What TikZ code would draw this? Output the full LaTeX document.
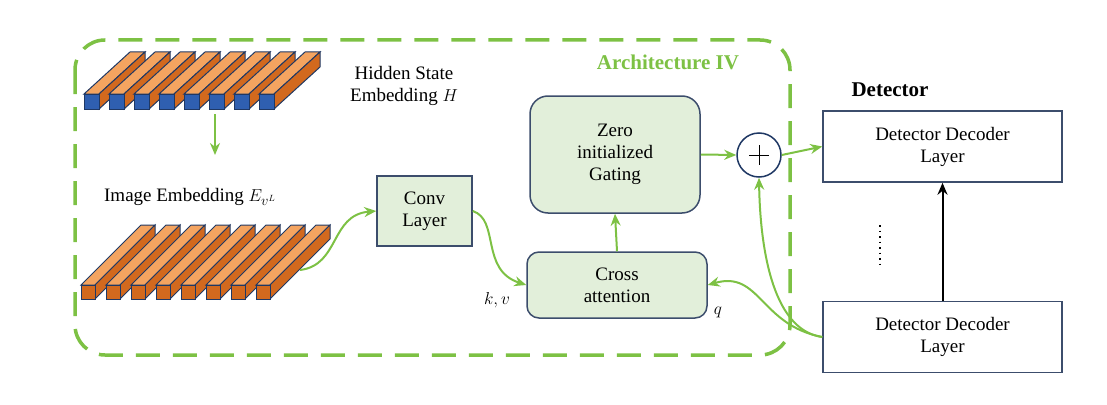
\documentclass[tikz,border=0pt]{standalone}
\usepackage{fontspec}
\setmainfont{Liberation Serif}
\usetikzlibrary{arrows.meta}
\definecolor{gr}{HTML}{7DC144}
\definecolor{boxfill}{HTML}{E2EFDA}
\definecolor{navy}{HTML}{1F3864}
\definecolor{ortop}{HTML}{F4A460}
\definecolor{orside}{HTML}{D2691E}
\definecolor{bl}{HTML}{2F5FB0}
\newcommand\mybar[6]{% x y s dx dy frontcolor
  \draw[navy,line width=1pt,fill=ortop] (#1,#2)--++(#3,0)--++(#4,-#5)--++(-#3,0)--cycle;
  \draw[navy,line width=1pt,fill=orside] (#1+#3,#2)--++(0,#3)--++(#4,-#5)--++(0,-#3)--cycle;
  \draw[navy,line width=1pt,fill=#6] (#1,#2) rectangle ++(#3,#3);
}
\begin{document}
\begin{tikzpicture}[x=1pt,y=-1pt,
  txt/.style={font=\fontsize{19}{22}\selectfont,align=center},
  gbox/.style={draw=navy!70!gray,fill=boxfill,line width=1.5pt,txt},
  wbox/.style={draw=navy!70!gray,fill=white,line width=1.5pt,txt,minimum width=239pt,minimum height=71pt},
  garr/.style={-{Stealth[length=12pt,width=10pt]},gr,line width=2pt}]
\useasboundingbox (0,0) rectangle (1107,404);
\draw[gr,line width=3.5pt,dash pattern=on 24pt off 13pt,rounded corners=30pt] (75,40) rectangle (790,355);
\node[txt,text=gr,font=\fontsize{21}{24}\selectfont\bfseries] (arch) at (668,62) {Architecture IV};
% hidden state bars
\foreach \i in {0,...,7}{\mybar{84+25*\i}{94}{15}{46}{42}{bl}}
\node[txt] (hs) at (404,86) {Hidden State\\Embedding $H$};
\coordinate (hb) at (215,114);
\node[txt] (ie) at (190,197) {Image Embedding $E_{v^L}$};
\draw[garr] (hb) -- (215,155);
% image bars
\foreach \i in {0,...,7}{\mybar{81+25*\i}{285}{14}{60}{60}{orside}}
\coordinate (ib) at (300,270);
\node[gbox,minimum width=95pt,minimum height=70pt] (conv) at (424.5,211) {Conv\\Layer};
\node[gbox,rounded corners=12pt,minimum width=180pt,minimum height=66pt] (cross) at (617,285) {Cross\\attention};
\node[gbox,rounded corners=18pt,minimum width=170pt,minimum height=117pt] (gate) at (615,154.5) {Zero\\initialized\\Gating};
\node[draw=navy,line width=1.5pt,circle,minimum size=44pt,inner sep=0pt,fill=white] (plus) at (759,155) {};
\draw[line width=1pt] (plus.center)++(-10,0)--++(20,0) (plus.center)++(0,-10)--++(0,20);
\node[txt,font=\fontsize{21}{24}\selectfont\bfseries] (det) at (890,90) {Detector};
\node[wbox] (d1) at (942.5,146.5) {Detector Decoder\\Layer};
\node[wbox] (d2) at (942.5,337) {Detector Decoder\\Layer};
\coordinate (dt) at (880,225);
\coordinate (db) at (880,267);
\draw[line width=1.5pt,dash pattern=on 1.5pt off 4pt] (dt) -- (db);
\node[txt] (kv) at (497,300) {$k,v$};
\node[txt] (q) at (718,312) {$q$};
\draw[-{Stealth[length=12pt,width=10pt]},line width=2pt] (d2.north) -- (d1.south);
\draw[garr] (ib) .. controls (340,265) and (330,215) .. (conv.west);
\draw[garr] (conv.east) .. controls (500,220) and (480,270) .. (cross.west);
\draw[garr] (cross.north) -- (gate.south);
\draw[garr] (gate.east) -- (plus.west);
\draw[garr] (plus.east) -- (d1.west);
\draw[garr] (d2.west) .. controls (760,325) and (760,270) .. (cross.east);
\draw[garr] (d2.west) .. controls (770,330) and (760,240) .. (plus.south);
\end{tikzpicture}
\end{document}
